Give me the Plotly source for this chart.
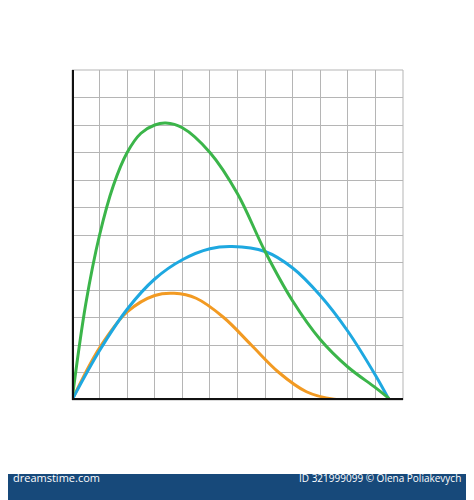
import plotly.graph_objects as go

green_x = [0, 0.5, 1, 1.5, 2, 2.5, 3, 3.4, 4, 5, 6, 7, 8, 9, 10, 11, 11.5]
green_y = [0, 3.5, 6.0, 7.8, 9.0, 9.7, 10.0, 10.07, 9.9, 9.0, 7.5, 5.4, 3.6, 2.2, 1.2, 0.45, 0.05]
blue_x = [0, 1, 2, 3, 4, 5, 5.8, 7, 8, 9, 10, 11, 11.5]
blue_y = [0, 1.8, 3.3, 4.4, 5.1, 5.5, 5.58, 5.4, 4.8, 3.8, 2.5, 0.9, 0]
orange_x = [0, 1, 2, 3, 3.7, 4.5, 5.5, 6.5, 7.5, 8.5, 9.5, 10.5, 11.5]
orange_y = [0, 1.9, 3.2, 3.8, 3.88, 3.7, 3.0, 2.0, 1.0, 0.3, 0.03, 0.02, 0.02]

fig = go.Figure()
for xs, ys, c in [(orange_x, orange_y, "#f29a22"), (blue_x, blue_y, "#1ea8e0"), (green_x, green_y, "#3bb54a")]:
    fig.add_trace(go.Scatter(x=xs, y=ys, mode="lines", line=dict(color=c, width=3, shape="spline", smoothing=1.0), hoverinfo="skip"))

fig.update_xaxes(range=[0, 12], dtick=1, showgrid=True, gridcolor="#b5b5b5", gridwidth=1,
                 showticklabels=False, zeroline=False, showline=False)
fig.update_yaxes(range=[0, 12], dtick=1, showgrid=True, gridcolor="#b5b5b5", gridwidth=1,
                 showticklabels=False, zeroline=False, showline=False)

# axes
fig.add_shape(type="line", xref="x", yref="paper", x0=0, x1=0, y0=0, y1=1, line=dict(color="#111", width=4))
fig.add_shape(type="line", xref="paper", yref="y", x0=0, x1=1, y0=0, y1=0, line=dict(color="#111", width=4))
fig.add_shape(type="rect", xref="paper", yref="paper", x0=0, x1=1, y0=0, y1=1, line=dict(color="#b5b5b5", width=1), layer="below")

# watermark banner
fig.add_shape(type="rect", xref="paper", yref="paper", x0=-0.3, x1=1.3, y0=-0.32, y1=-0.224,
              fillcolor="#17497a", line=dict(width=0))
fig.add_annotation(xref="paper", yref="paper", x=-0.185, y=-0.264, text="dreamstime.com", showarrow=False,
                   xanchor="left", font=dict(color="white", size=11, family="Open Sans"))
fig.add_annotation(xref="paper", yref="paper", x=1.18, y=-0.264, text="ID 321999099 © Olena Poliakevych",
                   showarrow=False, xanchor="right", font=dict(color="white", size=10, family="Open Sans"))

fig.update_layout(width=466, height=492, margin=dict(l=64, r=71, t=62, b=100),
                  paper_bgcolor="white", plot_bgcolor="white", showlegend=False)
fig.write_html("out.html")
